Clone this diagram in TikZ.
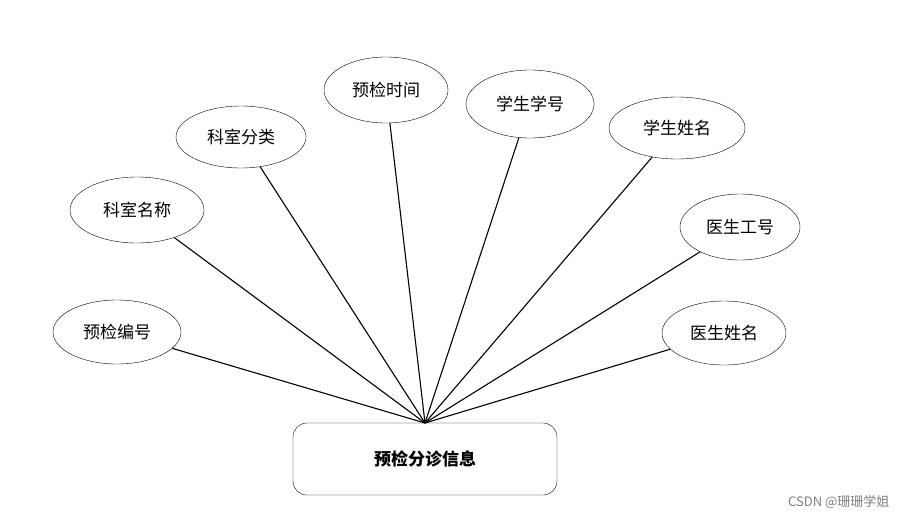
\documentclass[tikz,border=0pt]{standalone}
\usepackage{fontspec}
\usetikzlibrary{shapes.geometric}
\newfontfamily\cjk{Noto Sans CJK SC}
\begin{document}
\begin{tikzpicture}[x=1pt,y=-1pt,
  attr/.style={draw,ellipse,inner sep=0pt,font=\cjk\fontsize{17}{19}\selectfont},
  link/.style={draw,line width=1.1pt}]
\useasboundingbox (0,0) rectangle (907,520);
\node[draw,rounded corners=14pt,minimum width=264pt,minimum height=72pt,font=\cjk\bfseries\fontsize{17}{19}\selectfont] (main) at (425,459) {预检分诊信息};
\coordinate (p) at (425,423);
\foreach \n/\x/\y/\rx/\ry/\t in {a/117/332/64/32/预检编号, b/137/210/67/33/科室名称, c/241/137/65/31/科室分类, d/386/90/62/33/预检时间, e/530/104/64/34/学生学号, f/677/128/68/31/学生姓名, g/740/227/60/33/医生工号, h/724/333/62/32/医生姓名}{
  \node[attr,minimum width=2*\rx pt,minimum height=2*\ry pt] (\n) at (\x,\y) {\t};
  \draw[link] (\n) -- (p);
}
\node[font=\cjk\fontsize{13}{15}\selectfont,text=gray,anchor=east] (wm) at (893,502) {CSDN @珊珊学姐};
\end{tikzpicture}
\end{document}
